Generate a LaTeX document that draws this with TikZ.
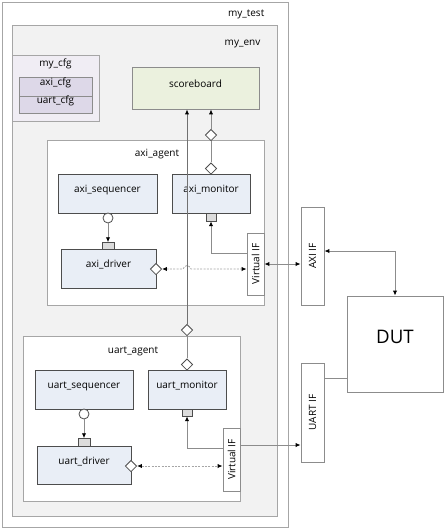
\documentclass[tikz,border=0pt]{standalone}
\usepackage{fontspec}
\setmainfont{Open Sans}
\usetikzlibrary{fit,shapes.geometric,arrows.meta}
\definecolor{envgray}{HTML}{F2F2F2}
\definecolor{cfgout}{HTML}{F0EDF4}
\definecolor{cfgin}{HTML}{DDD8E8}
\definecolor{compblue}{HTML}{E9EEF6}
\definecolor{sbgreen}{HTML}{EBF1DE}
\definecolor{edge}{HTML}{A6A6A6}
\definecolor{darkedge}{HTML}{4D4D4D}
\definecolor{linegray}{HTML}{8C8C8C}
\definecolor{portgray}{HTML}{DCDCDC}
\begin{document}
\begin{tikzpicture}[x=0.75pt,y=-0.75pt,
  font=\fontsize{7.5}{9}\selectfont,
  cont/.style={draw=edge, line width=0.75pt, inner sep=0pt},
  agent/.style={cont, fill=white},
  cfgbox/.style={draw=linegray, line width=0.75pt, fill=cfgin, inner sep=0pt},
  comp/.style={draw=darkedge, line width=0.75pt, fill=compblue, inner sep=0pt},
  sbbox/.style={draw=linegray, line width=0.75pt, fill=sbgreen, inner sep=0pt},
  iface/.style={draw=linegray, line width=0.75pt, fill=white, inner sep=0pt},
  circ/.style={circle, draw=darkedge, line width=0.6pt, fill=white, minimum size=7.5pt, inner sep=0pt},
  port/.style={draw=darkedge, line width=0.6pt, fill=portgray, inner sep=0pt},
  dia/.style={diamond, draw=darkedge, line width=0.6pt, fill=white, minimum width=8.6pt, minimum height=8.6pt, inner sep=0pt},
  conn/.style={draw=linegray, line width=0.6pt},
  conndark/.style={draw=darkedge!80, line width=0.6pt},
  dconn/.style={draw=edge, line width=0.6pt, dash pattern=on 1.5pt off 1pt},
  tip/.tip={Latex[length=3.6pt,width=3.2pt,color=black]}
]
\useasboundingbox (0,0) rectangle (444,529);
% containers
\node[cont, fill=white, fit={(2,2)(288,527)}] (test) {};
\node[anchor=east] (testlbl) at (269,14) {my\_test};
\node[cont, fill=envgray, fit={(12,25)(277,516)}] (env) {};
\node[anchor=east] (envlbl) at (265,44) {my\_env};
\node[cont, fill=cfgout, fit={(12,55)(99,121)}] (cfg) {};
\node (cfglbl) at (55.5,64) {my\_cfg};
\node[cfgbox, fit={(19,77)(92,96)}] (axicfg) {axi\_cfg};
\node[cfgbox, fit={(19,96)(92,113)}] (uartcfg) {uart\_cfg};
\node[sbbox, fit={(132,67)(259,109)}] (sb) {scoreboard};
% axi agent
\node[agent, fit={(47,140)(264,305)}] (axiag) {};
\node (axiaglbl) at (157,154) {axi\_agent};
\node[comp, fit={(58,174)(157,213)}] (axiseq) {axi\_sequencer};
\node[comp, fit={(172,174)(250,213)}] (aximon) {axi\_monitor};
\node[comp, fit={(61,249)(156,288)}] (axidrv) {axi\_driver};
\node[iface, fit={(247,233)(264,295)}] (axivif) {};
\node[rotate=90] (axiviflbl) at (axivif.center) {Virtual IF};
\node[circ] (axicirc) at (108,218) {};
\node[port, fit={(102,242.5)(114,249)}] (axidport) {};
\node[port, fit={(206,213)(216,221)}] (aximport) {};
\node[dia] (axiddia) at (156,269) {};
\node[dia] (aximdia) at (211,168.5) {};
\node[dia] (axiagdia) at (211,135) {};
% uart agent
\node[agent, fit={(23,336)(240,501)}] (uag) {};
\node (uaglbl) at (133,351) {uart\_agent};
\node[comp, fit={(35,370)(133,409)}] (useq) {uart\_sequencer};
\node[comp, fit={(148,370)(226,409)}] (umon) {uart\_monitor};
\node[comp, fit={(37,446)(131,484)}] (udrv) {uart\_driver};
\node[iface, fit={(223,428)(240,491)}] (uvif) {};
\node[rotate=90] (uviflbl) at (uvif.center) {Virtual IF};
\node[circ] (ucirc) at (84,414) {};
\node[port, fit={(78,438.5)(90,446)}] (udport) {};
\node[port, fit={(182,409)(192,416)}] (umport) {};
\node[dia] (uddia) at (131,466) {};
\node[dia] (umdia) at (187,364.5) {};
\node[dia] (uagdia) at (187,330) {};
% external
\node[iface, fit={(301,207)(324,305)}] (axiif) {};
\node[rotate=90] (axiiflbl) at (axiif.center) {AXI IF};
\node[iface, fit={(301,363)(324,462)}] (uartif) {};
\node[rotate=90] (uartiflbl) at (uartif.center) {UART IF};
\node[iface, fit={(347,296)(443,392)}, font=\fontsize{14}{16}\selectfont] (dut) {DUT};
% axi connections
\draw[conn,-tip] (axicirc.south) -- (axidport.north);
\coordinate (axim1) at (211,253);
\draw[conn,-tip] (axivif.west |- axim1) -- (axim1) -- (aximport.south);
\coordinate (hopa) at (183,269);
\coordinate (hopb) at (191,269);
\coordinate (hopc1) at (184.5,264.5);
\coordinate (hopc2) at (189.5,264.5);
\draw[dconn,tip-tip] (axiddia.east) -- (hopa) .. controls (hopc1) and (hopc2) .. (hopb) -- (axivif.west |- axiddia.east);
\draw[conn] (aximdia.north) -- (axiagdia.south);
\draw[conn,-tip] (axiagdia.north) -- (sb.south -| axiagdia);
% uart connections
\draw[conn,-tip] (ucirc.south) -- (udport.north);
\coordinate (um1) at (187,448);
\draw[conn,-tip] (uvif.west |- um1) -- (um1) -- (umport.south);
\draw[dconn,tip-tip] (uddia.east) -- (uvif.west |- uddia.east);
\draw[conn] (umdia.north) -- (uagdia.south);
\draw[conndark,-tip] (uagdia.north) -- (sb.south -| uagdia);
% external connections
\coordinate (a1) at (280,264);
\draw[conn,tip-tip] (axivif.east |- a1) -- (axiif.west |- a1);
\coordinate (a2) at (395,251);
\draw[conn,tip-tip] (axiif.east |- a2) -- (a2) -- (dut.north -| a2);
\coordinate (u1) at (280,445);
\draw[conn,-tip] (uvif.east |- u1) -- (uartif.west |- u1);
\coordinate (u2) at (335,378);
\draw[conn] (uartif.east |- u2) -- (dut.west |- u2);
\end{tikzpicture}
\end{document}
